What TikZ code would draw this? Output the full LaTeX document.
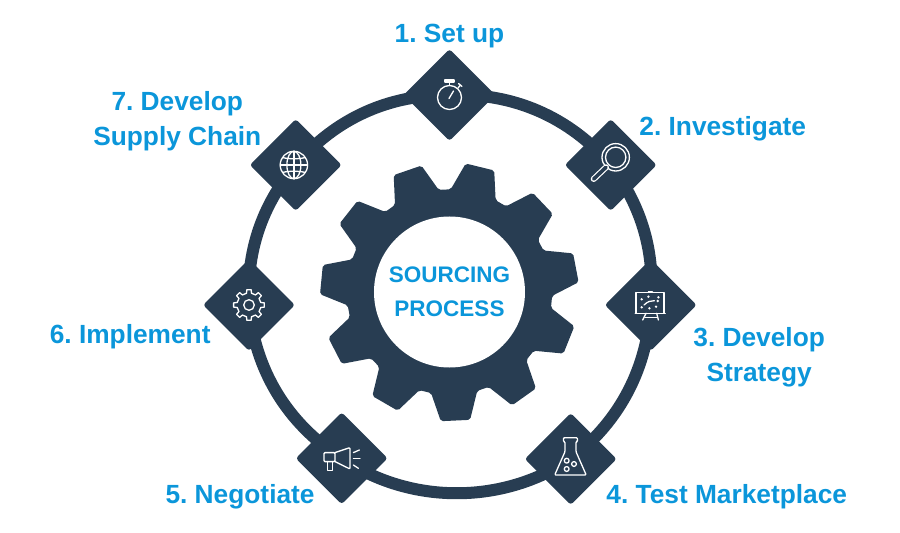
\documentclass[tikz,border=0pt]{standalone}
\usepackage{fontspec}
\setmainfont{Liberation Sans}
\usetikzlibrary{positioning,shapes.geometric}
\definecolor{navy}{HTML}{283D52}
\definecolor{sky}{HTML}{0B96DA}

\begin{document}
\frenchspacing
\begin{tikzpicture}[
		x=1pt, y=1pt,
		stage/.style={diamond, aspect=1, fill=navy, inner sep=0pt, minimum size=92pt, rounded corners=3pt},
		link/.style={draw=navy, line width=12pt, looseness=0.92},
		tag/.style={text=sky, inner sep=0pt, align=center, font=\fontsize{26.3}{35}\selectfont\bfseries},
		hub/.style={circle, fill=white, text=sky, inner sep=0pt, minimum size=151pt, align=center, font=\fontsize{22.5}{34}\selectfont\bfseries},
		icon/.style={draw=white, line width=1.3pt, line cap=round, line join=round},
		]
		\useasboundingbox (-449.5,-241) rectangle (450.5,292);

		%Gear
		\fill[navy, rounded corners=2pt] (63.3:102.7)
			\foreach \k [evaluate=\k as \a using 76.3+\k*32.727] in {0,...,10} {
				-- (\a-13:102.7) -- (\a-6.5:129.5) -- (\a+6.5:129.5) -- (\a+13:102.7)
			} -- cycle;
		\node[hub]	(hub)	at (0,0)	{SOURCING\\PROCESS};

		%Main Nodes
		\node[stage]	(set_up)		at (0,197)			{};
		\node[stage]	(investigate)	at (161.2,127)		{};
		\node[stage]	(strategy)		at (201.2,-13)		{};
		\node[stage]	(marketplace)	at (121.2,-167)		{};
		\node[stage]	(negotiate)		at (-107.8,-166.3)	{};
		\node[stage]	(implement)		at (-200.5,-13)		{};
		\node[stage]	(supply_chain)	at (-153.8,127)		{};

		%Main Lines
		\draw[link] (set_up.center)			to[bend left=26]	(investigate.center);
		\draw[link] (investigate.center)	to[bend left=21]	(strategy.center);
		\draw[link] (strategy.center)		to[bend left=25]	(marketplace.center);
		\draw[link] (marketplace.center)	to[bend left=34]	(negotiate.center);
		\draw[link] (negotiate.center)		to[bend left=26.5]	(implement.center);
		\draw[link] (implement.center)		to[bend left=21.5]	(supply_chain.center);
		\draw[link] (supply_chain.center)	to[bend left=25]	(set_up.center);

		%Labels
		\node[tag]	(set_up_tag)		[above=1pt of set_up]						{1. Set up};
		\node[tag]	(investigate_tag)	[right=-17.7pt of investigate, yshift=36pt]	{2. Investigate};
		\node[tag]	(strategy_tag)		[right=-3.7pt of strategy, yshift=-52.5pt]	{3. Develop\\Strategy};
		\node[tag]	(marketplace_tag)	[right=-10.7pt of marketplace, yshift=-38pt]	{4. Test Marketplace};
		\node[tag]	(negotiate_tag)		[left=-19.3pt of negotiate, yshift=-38pt]	{5. Negotiate};
		\node[tag]	(implement_tag)		[left=-8pt of implement, yshift=-32pt]		{6. Implement};
		\node[tag]	(supply_chain_tag)	[left=-12pt of supply_chain, yshift=43.5pt]	{7. Develop\\Supply Chain};

		%Stopwatch
		\begin{scope}[shift={(set_up.center)}]
			\draw[icon] (0,-2.5) circle (12);
			\draw[icon] (0,9.5) -- (0,13);
			\draw[icon] (-4.5,13) rectangle (4.5,15);
			\draw[icon] (8.5,7) -- (11,10);
			\draw[icon] (9,11.5) -- (12.5,8.5);
			\draw[icon] (-0.5,-3.5) -- (4,4);
		\end{scope}

		%Magnifier
		\begin{scope}[shift={(investigate.center)}]
			\draw[icon] (5,7.7) circle (13.7);
			\draw[icon] (5,7.7) circle (10.2);
			\draw[white, line width=6pt, line cap=round] (-4.7,-2.3) -- (-17,-14);
			\draw[navy, line width=3.6pt, line cap=round] (-4.7,-2.3) -- (-17,-14);
		\end{scope}

		%Board
		\begin{scope}[shift={(strategy.center)}]
			\draw[icon] (-14.7,12.3) rectangle (13.3,-8.3);
			\draw[icon] (-15.5,-8.3) -- (14.5,-8.3);
			\draw[icon] (-2.3,13.3) -- (1.7,13.3);
			\draw[icon] (-4.7,-8.3) -- (-8,-15);
			\draw[icon] (6,-8.3) -- (7.7,-15);
			\draw[icon] (-5.7,-12.7) -- (6,-12.7);
			\draw[icon] (-6.7,0) .. controls (-3,3.5) and (0,4.5) .. (3.7,4.3);
			\foreach \x/\y in {-9/5.7, -2.3/8.3, 7.7/7.7, 7/4, 5.3/-1.7, -1.3/-3.3, -9/-2.3}
				\fill[white] (\x,\y) circle (1.3);
		\end{scope}

		%Flask
		\begin{scope}[shift={(marketplace.center)}]
			\draw[icon, rounded corners=1pt] (-5.7,17.3) -- (-7.3,17.3) -- (-7.3,21.3) -- (6.7,21.3) -- (6.7,17.3) -- (5.3,17.3)
				-- (5.3,7.3) -- (15.5,-16) -- (-16,-16) -- (-5.7,7.3) -- cycle;
			\draw[icon] (-4,-1.7) circle (2.4);
			\draw[icon] (3.3,-5) circle (2.4);
			\draw[icon] (-4,-10) circle (2.4);
		\end{scope}

		%Megaphone
		\begin{scope}[shift={(negotiate.center)}]
			\draw[icon, rounded corners=1pt] (-17.7,5.7) rectangle (-6.7,-3.3);
			\draw[icon, rounded corners=1pt] (-6.7,5.7) -- (8.3,10.7) -- (8.3,-10.7) -- (-6.7,-3.3);
			\draw[icon] (-14,-3.3) -- (-14,-12.3) -- (-9,-12.3) -- (-9,-3.3);
			\draw[icon] (11.7,5.7) -- (17.7,8.3);
			\draw[icon] (11.7,0) -- (18.3,0);
			\draw[icon] (11.7,-6.7) -- (16.7,-10);
		\end{scope}

		%Small gear
		\begin{scope}[shift={(implement.center)}]
			\draw[icon] (-12:12)
				\foreach \k [evaluate=\k as \a using \k*45] in {0,...,7} {
					-- (\a-12:12) -- (\a-8:15.5) -- (\a+8:15.5) -- (\a+12:12)
				} -- cycle;
			\draw[icon] (0,0) circle (5.3);
		\end{scope}

		%Globe
		\begin{scope}[shift={(supply_chain.center)}, xshift=-1.8pt]
			\draw[icon] (0,0) circle (13.7);
			\draw[icon] (0,0) ellipse (7 and 13.7);
			\draw[icon] (0,-13.7) -- (0,13.7);
			\draw[icon] (-13.7,0) -- (13.7,0);
			\draw[icon] (-11.5,7.5) .. controls (-5,5.8) and (5,5.8) .. (11.5,7.5);
			\draw[icon] (-11.5,-7.5) .. controls (-5,-5.8) and (5,-5.8) .. (11.5,-7.5);
		\end{scope}

	\end{tikzpicture}
\end{document}
